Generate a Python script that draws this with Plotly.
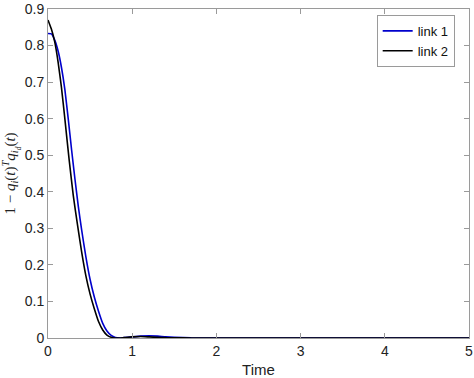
import plotly.graph_objects as go

# link 1 (blue)
t_link1 = [0, 0.04, 0.08, 0.12, 0.16, 0.2, 0.24, 0.28, 0.32, 0.36, 0.4, 0.45, 0.5, 0.55, 0.6, 0.65, 0.7,
           0.75, 0.8, 0.85, 0.9, 1.0, 1.1, 1.2, 1.3, 1.4, 1.5, 1.7, 2.0, 5.0]
v_link1 = [0.833, 0.832, 0.815, 0.785, 0.74, 0.68, 0.60, 0.515, 0.435, 0.36, 0.295, 0.222, 0.16, 0.112, 0.073,
           0.04, 0.019, 0.007, 0.0015, 0.0, 0.001, 0.003, 0.005, 0.006, 0.005, 0.003, 0.002, 0.0005, 0.0, 0.0]

# link 2 (black)
t_link2 = [0, 0.04, 0.08, 0.12, 0.16, 0.2, 0.25, 0.3, 0.35, 0.4, 0.45, 0.5, 0.55, 0.6, 0.65, 0.7, 0.75,
           0.8, 0.85, 0.9, 1.0, 1.1, 1.2, 1.3, 1.4, 1.6, 1.8, 2.0, 5.0]
v_link2 = [0.87, 0.845, 0.81, 0.755, 0.685, 0.60, 0.49, 0.39, 0.31, 0.235, 0.17, 0.12, 0.08, 0.045, 0.022,
           0.008, 0.002, 0.0, 0.0, 0.001, 0.003, 0.004, 0.003, 0.002, 0.001, 0.0003, 0.0, 0.0, 0.0]

x_ticks = [0, 1, 2, 3, 4, 5]
y_ticks = [0, 0.1, 0.2, 0.3, 0.4, 0.5, 0.6, 0.7, 0.8, 0.9]

fig = go.Figure()
fig.add_trace(go.Scatter(x=t_link1, y=v_link1, mode="lines", name="link 1",
                         line=dict(color="#0000cc", width=1.6, shape="spline", smoothing=0.4)))
fig.add_trace(go.Scatter(x=t_link2, y=v_link2, mode="lines", name="link 2",
                         line=dict(color="#000000", width=1.6, shape="spline", smoothing=0.4)))

axis_common = dict(showline=True, linecolor="#9a9a9a", linewidth=1, mirror="ticks",
                   ticks="inside", ticklen=5, tickcolor="#9a9a9a", showgrid=False, zeroline=False,
                   ticklabeloverflow="allow",
                   tickfont=dict(family="Liberation Sans, Arial, sans-serif", size=14, color="#222"))

fig.update_layout(
    width=474, height=378,
    margin=dict(l=48, r=1, t=5, b=39),
    paper_bgcolor="white", plot_bgcolor="white",
    xaxis=dict(range=[0, 5], tickvals=x_ticks, ticktext=[str(v) for v in x_ticks],
               title=dict(text="Time", standoff=8,
                          font=dict(family="Liberation Sans, Arial, sans-serif", size=15, color="#222")),
               **axis_common),
    yaxis=dict(range=[0, 0.9], tickvals=y_ticks, ticktext=["0"] + [f"{v:.1f}" for v in y_ticks[1:]],
               title=dict(text="1 − <i>q<sub>i</sub></i>(<i>t</i>)<sup><i>T</i></sup><i>q<sub>i<sub>d</sub></sub></i>(<i>t</i>)",
                          standoff=6,
                          font=dict(family="Liberation Serif, DejaVu Serif, serif", size=15, color="#222")),
               **axis_common),
    legend=dict(x=0.966, y=0.982, xanchor="right", yanchor="top",
                bgcolor="white", bordercolor="#9a9a9a", borderwidth=1,
                font=dict(family="Liberation Sans, Arial, sans-serif", size=13, color="#111"),
                tracegroupgap=0, itemwidth=30),
    showlegend=True,
)

fig.write_html("out.html", config={"displayModeBar": False},
               post_script="document.body.style.margin='0';document.body.style.overflow='hidden';")
